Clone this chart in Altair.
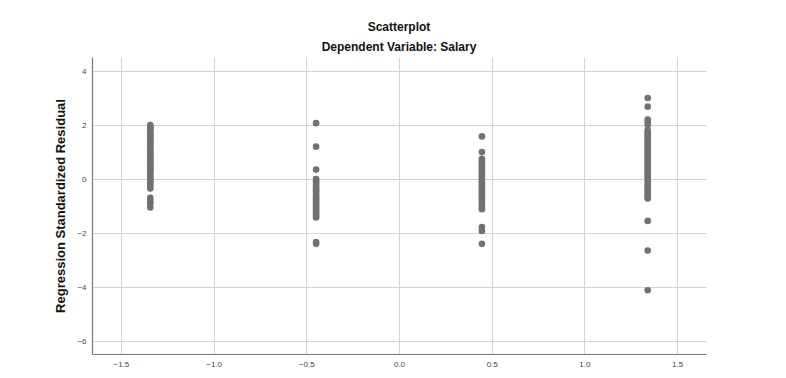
import altair as alt
import pandas as pd

# Predicted value columns (standardized)
x_groups = [-1.3416, -0.4472, 0.4472, 1.3416]

res_g1 = [2.0, 1.95, 1.9, 1.85, 1.8, 1.72, 1.65, 1.6, 1.52, 1.45, 1.4, 1.32, 1.25, 1.18,
          1.1, 1.02, 0.95, 0.9, 0.82, 0.75, 0.7, 0.62, 0.55, 0.5, 0.42, 0.35, 0.3, 0.22,
          0.12, 0.05, 0.0, -0.08, -0.15, -0.25, -0.35, -0.7, -0.8, -0.9, -1.05]
res_g2 = [2.07, 1.2, 0.35, 0.0, -0.08, -0.15, -0.22, -0.3, -0.38, -0.45, -0.52, -0.6,
          -0.68, -0.75, -0.82, -0.9, -0.98, -1.05, -1.12, -1.2, -1.28, -1.35, -1.42,
          -2.33, -2.4]
res_g3 = [1.58, 1.0, 0.75, 0.68, 0.6, 0.52, 0.45, 0.38, 0.3, 0.22, 0.15, 0.08, 0.0,
          -0.08, -0.15, -0.22, -0.3, -0.38, -0.45, -0.52, -0.6, -0.68, -0.75, -0.85,
          -0.95, -1.05, -1.12, -1.78, -1.92, -2.4]
res_g4 = [3.0, 2.68, 2.2, 2.1, 2.0, 1.8, 1.72, 1.65, 1.58, 1.5, 1.42, 1.35, 1.28, 1.2,
          1.12, 1.05, 0.98, 0.9, 0.82, 0.75, 0.68, 0.6, 0.52, 0.45, 0.38, 0.3, 0.22,
          0.15, 0.08, 0.0, -0.08, -0.2, -0.28, -0.35, -0.42, -0.5, -0.58, -0.65, -0.72,
          -1.55, -2.65, -4.12]

x_ticks = [-1.5, -1.0, -0.5, 0.0, 0.5, 1.0, 1.5]
y_ticks = [4, 2, 0, -2, -4, -6]

rows = []
for xv, res in zip(x_groups, [res_g1, res_g2, res_g3, res_g4]):
    for r in res:
        rows.append({"pred": xv, "resid": r})
df = pd.DataFrame(rows)

FONT = "Liberation Sans"

chart = alt.Chart(df).mark_circle(size=44, color="#717171", opacity=1).encode(
    x=alt.X("pred:Q",
            scale=alt.Scale(domain=[-1.656, 1.656], nice=False, zero=False),
            axis=alt.Axis(values=x_ticks, format=".1f", title=None,
                          labelFontSize=8, labelColor="#444", labelFont=FONT,
                          ticks=False, labelPadding=6,
                          domainColor="#777", domainWidth=1.2,
                          gridColor="#d3d3d3", gridWidth=1)),
    y=alt.Y("resid:Q",
            scale=alt.Scale(domain=[-6.48, 4.52], nice=False, zero=False),
            axis=alt.Axis(values=y_ticks, format="d",
                          title="Regression Standardized Residual",
                          titleFont=FONT, titleFontSize=13, titleFontWeight="bold",
                          titleColor="#111", titlePadding=9,
                          labelFontSize=8, labelColor="#444", labelFont=FONT,
                          ticks=False, labelPadding=6,
                          domainColor="#777", domainWidth=1.2,
                          gridColor="#d3d3d3", gridWidth=1)),
).properties(
    width=614,
    height=297,
    title=alt.TitleParams(
        text="Scatterplot",
        subtitle="Dependent Variable: Salary",
        font=FONT, fontSize=12, fontWeight="bold", color="#111",
        subtitleFont=FONT, subtitleFontSize=12, subtitleFontWeight="bold",
        subtitleColor="#111", subtitlePadding=8,
        anchor="middle", frame="group", offset=3,
    ),
    autosize=alt.AutoSizeParams(type="none"),
    padding={"left": 92, "top": 57, "right": 80, "bottom": 24},
).configure(background="white", view=alt.ViewConfig(stroke=None))

chart.save("out.html", embed_options={"renderer": "svg", "actions": False})
